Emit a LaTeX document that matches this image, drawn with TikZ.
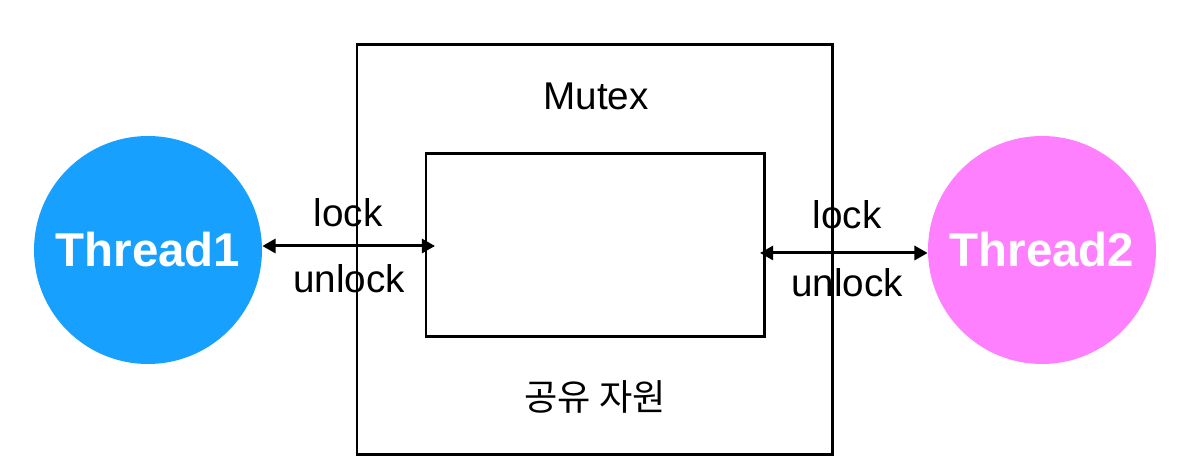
\documentclass[tikz,border=0pt]{standalone}
\usepackage{fontspec}
\setmainfont{Liberation Sans}
\newfontfamily\krfont{Noto Sans CJK KR}
\usetikzlibrary{arrows.meta}
\definecolor{threadblue}{RGB}{24,160,255}
\definecolor{threadpink}{RGB}{255,128,255}
\tikzset{>/.tip={Triangle[length=7.5pt,width=8pt]},
  thread/.style={circle,minimum size=4.56cm,inner sep=0pt,text=white,font=\fontsize{27}{30}\selectfont\bfseries},
  box/.style={draw,line width=1.7pt,inner sep=0pt},
  word/.style={font=\fontsize{22}{26}\selectfont,anchor=base}}

\begin{document}
\begin{tikzpicture}
\useasboundingbox (0,0) rectangle (23.98,9.48);
\node[box,minimum width=9.5cm,minimum height=8.2cm] (mutex) at (11.89,4.48) {};
\node[box,minimum width=6.76cm,minimum height=3.66cm] (res) at (11.90,4.57) {};
\node[word] (mname) at (11.92,7.28) {Mutex};
\node[font=\krfont\fontsize{20.6}{24}\selectfont] (rname) at (11.90,1.54) {공유 자원};
\node[thread,fill=threadblue] (t1) at (2.96,4.48) {Thread1};
\node[thread,fill=threadpink] (t2) at (20.84,4.48) {Thread2};
\coordinate (a1) at (8.70,4.56);
\coordinate (a2) at (15.20,4.42);
\draw[<->,line width=1.7pt] (t1.east |- a1) to (a1);
\draw[<->,line width=1.7pt] (a2) to (t2.west |- a2);
\node[word] (lock1) at (6.96,4.94) {lock};
\node[word] (unlock1) at (6.98,3.62) {unlock};
\node[word] (lock2) at (16.94,4.90) {lock};
\node[word] (unlock2) at (16.94,3.54) {unlock};
\end{tikzpicture}
\end{document}
